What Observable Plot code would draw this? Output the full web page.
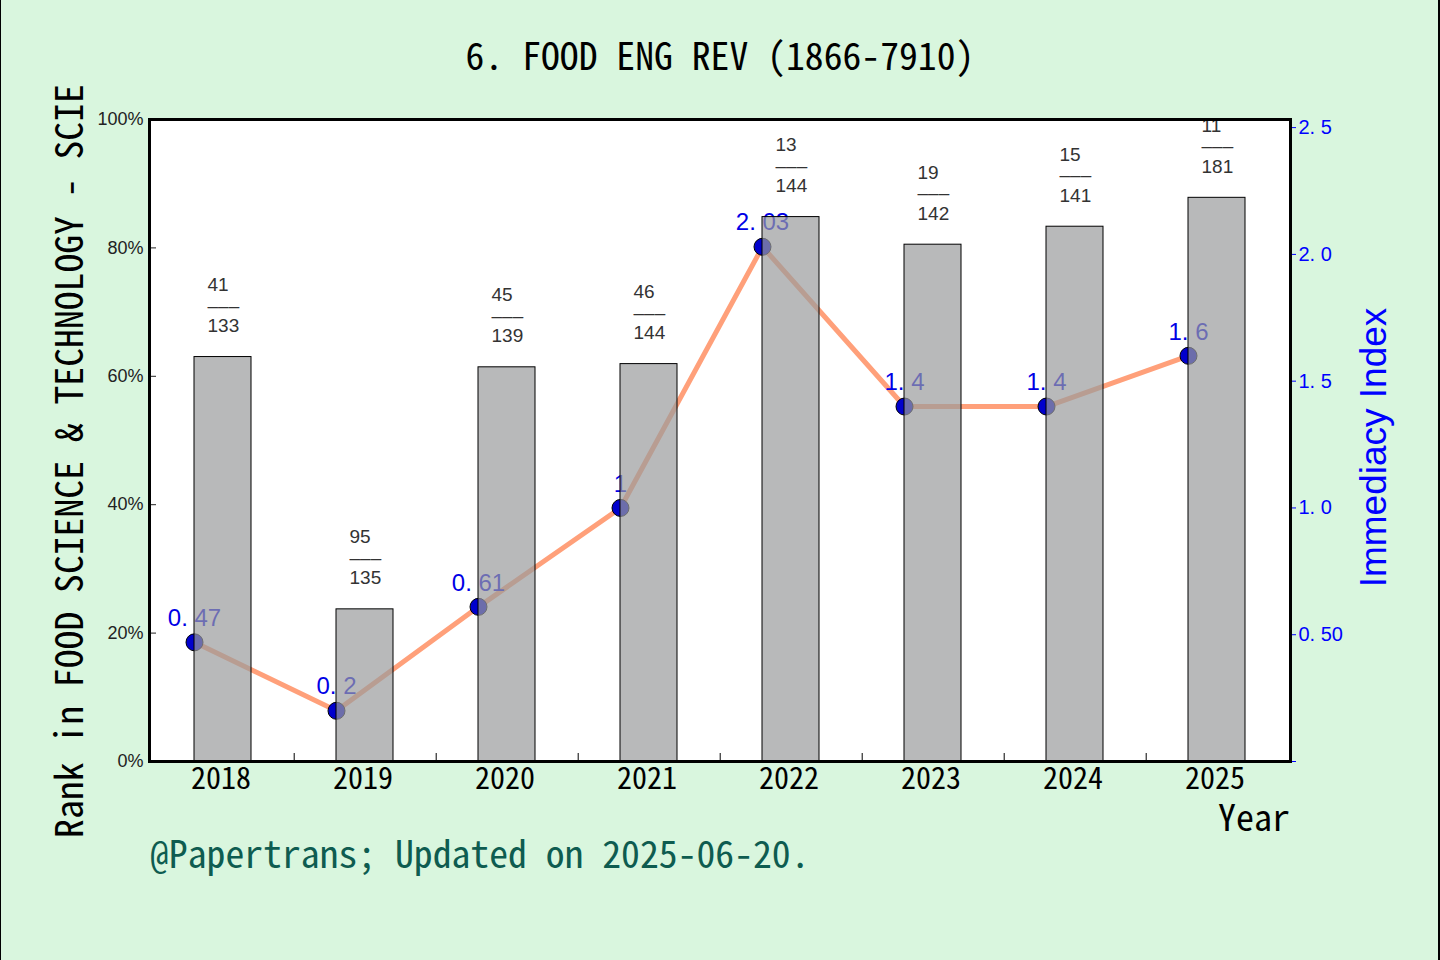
<!DOCTYPE html>
<html>
<head>
<meta charset="utf-8">
<script src="https://cdn.jsdelivr.net/npm/d3@7"></script>
<script src="https://cdn.jsdelivr.net/npm/@observablehq/plot@0.6"></script>
<style>
html, body { margin: 0; padding: 0; background: #d9f6de; }
#wrap { position: relative; width: 1440px; height: 960px; background: #d9f6de; overflow: hidden; }
#wrap svg { position: absolute; left: 0; top: 0; }
.mono { font-family: "Noto Sans Mono CJK SC", "Noto Sans Mono CJK JP", "DejaVu Sans Mono", monospace; }
.abs { position: absolute; white-space: nowrap; }
#title { left: 0; width: 1440px; top: 35px; text-align: center; font-size: 37.7px; line-height: 38px; color: #000; }
#ylabel { left: -333px; width: 800px; top: 442px; text-align: center; font-size: 37.7px; line-height: 38px; color: #000; transform: rotate(-90deg); transform-origin: 50% 50%; }
#y2label { left: 1073px; width: 600px; top: 429px; text-align: center; font-size: 37px; line-height: 37px; color: #0000ff; font-family: "Liberation Sans", Arial, sans-serif; transform: rotate(-90deg); transform-origin: 50% 50%; }
#xlabel { right: 150px; top: 797px; font-size: 36px; line-height: 36px; color: #000; }
#caption { left: 150px; top: 833px; font-size: 37.7px; line-height: 38px; color: #0e5c50; }
#border { position: absolute; left: 0; top: 0; width: 1440px; height: 960px; box-sizing: border-box; border-left: 1px solid #000; border-right: 2px solid #000; pointer-events: none; }
</style>
</head>
<body>
<div id="wrap">
  <div id="chart"></div>
  <div id="title" class="abs mono"></div>
  <div id="ylabel" class="abs mono"></div>
  <div id="y2label" class="abs"></div>
  <div id="xlabel" class="abs mono"></div>
  <div id="caption" class="abs mono"></div>
  <div id="border"></div>
</div>
<script>
// ---- data ----
const titleText = "6. FOOD ENG REV (1866-7910)";
const yLabelText = "Rank in FOOD SCIENCE & TECHNOLOGY - SCIE";
const y2LabelText = "Immediacy Index";
const xLabelText = "Year";
const captionText = "@Papertrans; Updated on 2025-06-20.";

const years = ["2018", "2019", "2020", "2021", "2022", "2023", "2024", "2025"];
const rankPct = [0.630, 0.237, 0.614, 0.619, 0.848, 0.805, 0.833, 0.878];
const rankNum = [41, 95, 45, 46, 13, 19, 15, 11];
const rankTotal = [133, 135, 139, 144, 144, 142, 141, 181];
const immediacy = [0.47, 0.2, 0.61, 1, 2.03, 1.4, 1.4, 1.6];
const immediacyLabels = ["0. 47", "0. 2", "0. 61", "1", "2. 03", "1. 4", "1. 4", "1. 6"];
const pctTicks = [0, 0.2, 0.4, 0.6, 0.8, 1];
const pctTickLabels = ["0%", "20%", "40%", "60%", "80%", "100%"];
const iiTicks = [0, 0.5, 1, 1.5, 2, 2.5];
const iiTickLabels = ["", "0. 50", "1. 0", "1. 5", "2. 0", "2. 5"];
const iiMax = 2.532; // top of the right axis
const fractionBar = "\u2013\u2013\u2013";

// ---- table built from the arrays ----
const data = years.map((y, i) => ({
  year: y,
  pct: rankPct[i],
  rankText: `${rankNum[i]}\n${fractionBar}\n${rankTotal[i]}`,
  iiPos: immediacy[i] / iiMax,
  iiLabel: immediacyLabels[i]
}));

const mono = "Noto Sans Mono CJK SC, Noto Sans Mono CJK JP, DejaVu Sans Mono, monospace";
const sans = "Liberation Sans, Arial, sans-serif";
const half = 28.5;   // half bar width offset for the index series
const step2 = 71.2;  // half band step, for boundary ticks

const labelFor = (ticks, labels) => d => {
  const i = ticks.findIndex(t => Math.abs(t - d) < 1e-9);
  return i < 0 ? "" : labels[i];
};

const chart = Plot.plot({
  width: 1440,
  height: 960,
  marginLeft: 149,
  marginRight: 150,
  marginTop: 119,
  marginBottom: 199,
  style: { background: "transparent", overflow: "visible" },
  x: { type: "band", domain: years, paddingInner: 0.6, paddingOuter: 0.31 },
  y: { domain: [0, 1] },
  marks: [
    Plot.frame({ fill: "white", stroke: null }),
    Plot.lineY(data, { x: "year", y: "iiPos", stroke: "#ffa07a", strokeWidth: 5, dx: -half }),
    Plot.dot(data, { x: "year", y: "iiPos", r: 8.5, fill: "#0000cd", stroke: "#000", strokeWidth: 1, dx: -half }),
    Plot.text(data, { x: "year", y: "iiPos", text: "iiLabel", dx: -half, dy: -24, fill: "#0000e6", fontSize: 24, fontFamily: sans }),
    Plot.barY(data, { x: "year", y: "pct", fill: "#9a9b9c", fillOpacity: 0.7, stroke: "#000", strokeWidth: 1 }),
    Plot.text(data, { x: "year", y: "pct", text: "rankText", textAnchor: "start", lineAnchor: "middle", lineHeight: 1.08, dx: -15.5, dy: -52, fill: "#333", fontSize: 19, fontFamily: sans }),
    Plot.ruleX(years.slice(0, -1), { x: d => d, dx: step2, y1: 0, y2: 8 / 642, stroke: "#000", strokeWidth: 1 }),
    Plot.axisX({ tickSize: 0, tickPadding: 6, fontSize: 30, fontFamily: mono, color: "#000", label: null, dx: -2 }),
    Plot.axisY(pctTicks, { anchor: "left", tickFormat: labelFor(pctTicks, pctTickLabels), tickSize: -7, tickPadding: 13, fontSize: 18, fontFamily: sans, color: "#222", label: null }),
    Plot.axisY(iiTicks.map(t => t / iiMax), { anchor: "right", tickFormat: labelFor(iiTicks.map(t => t / iiMax), iiTickLabels), tickSize: 5, tickPadding: 3, fontSize: 20, fontFamily: sans, color: "#0000ff", label: null }),
    Plot.frame({ stroke: "#000", strokeWidth: 3 })
  ]
});

document.getElementById("chart").appendChild(chart);
document.getElementById("title").textContent = titleText;
document.getElementById("ylabel").textContent = yLabelText;
document.getElementById("y2label").textContent = y2LabelText;
document.getElementById("xlabel").textContent = xLabelText;
document.getElementById("caption").textContent = captionText;
</script>
</body>
</html>
